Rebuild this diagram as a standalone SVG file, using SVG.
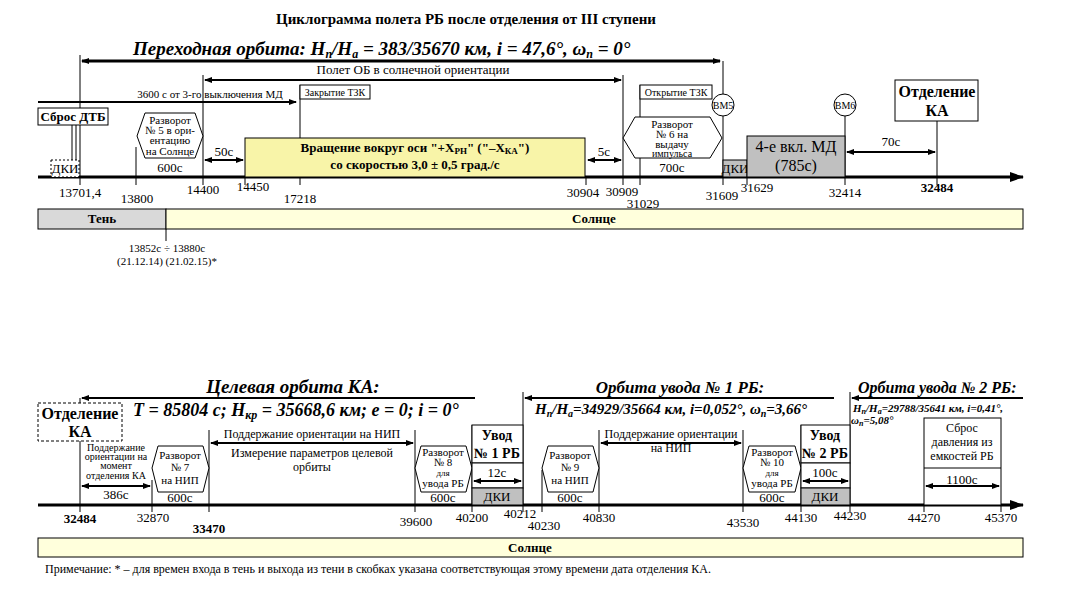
<svg xmlns="http://www.w3.org/2000/svg" width="1074" height="595" viewBox="0 0 1074 595">
<style>
text{font-family:"Liberation Serif","Times New Roman",serif;fill:#000}
.t{font-size:13px;text-anchor:middle}
.s{font-size:11px;text-anchor:middle}
.b{font-weight:bold}
.h{font-size:19px;font-weight:bold;font-style:italic}
.ln{stroke:#000;stroke-width:1;fill:none}
.ax{stroke:#000;stroke-width:3;fill:none}
.ar{stroke:#000;stroke-width:2;fill:none;marker-end:url(#a);marker-start:url(#as)}
.box{fill:#fff;stroke:#000;stroke-width:1}
.hex{fill:#fff;stroke:#000;stroke-width:1}
.gr{fill:#c0c0c0;stroke:#000;stroke-width:1}
</style>
<defs>
<marker id="a" markerWidth="8" markerHeight="8" refX="7" refY="4" orient="auto" markerUnits="userSpaceOnUse"><path d="M0,1 L8,4 L0,7z"/></marker>
<marker id="as" markerWidth="8" markerHeight="8" refX="1" refY="4" orient="auto" markerUnits="userSpaceOnUse"><path d="M8,1 L0,4 L8,7z"/></marker>
<marker id="ae" markerWidth="14" markerHeight="12" refX="13" refY="6" orient="auto" markerUnits="userSpaceOnUse"><path d="M0,1 L14,6 L0,11z"/></marker>
</defs>
<rect width="1074" height="595" fill="#fff"/>
<text x="466" y="24" class="b" style="font-size:15px;text-anchor:middle">Циклограмма полета РБ после отделения от III ступени</text>
<text x="133" y="55" class="h">Переходная орбита: H<tspan font-size="12" dy="3">п</tspan><tspan dy="-3">/H</tspan><tspan font-size="12" dy="3">а</tspan><tspan dy="-3"> = 383/35670 км, i = 47,6°, ω</tspan><tspan font-size="12" dy="3">п</tspan><tspan dy="-3"> = 0°</tspan></text>

<g id="connectors">
<line x1="38" y1="177" x2="1023" y2="177" class="ax" marker-end="url(#ae)"/>
<line x1="38" y1="505" x2="1023" y2="505" class="ax" marker-end="url(#ae)"/>
<line x1="82" y1="61" x2="720" y2="61" stroke="#000" stroke-width="3" marker-start="url(#as)" marker-end="url(#a)"/>
<line x1="80" y1="55" x2="80" y2="185" class="ln"/>
<line x1="723" y1="61" x2="723" y2="185" class="ln"/>
<line x1="205" y1="80" x2="621" y2="80" class="ar"/>
<line x1="203" y1="75" x2="203" y2="185" class="ln"/>
<line x1="623" y1="75" x2="623" y2="185" class="ln"/>
<line x1="38" y1="102" x2="296" y2="102" stroke="#000" stroke-width="2" marker-end="url(#a)"/>
<line x1="300" y1="85" x2="300" y2="185" class="ln"/>
<line x1="640" y1="85" x2="640" y2="185" class="ln"/>
<line x1="136" y1="147" x2="136" y2="185" class="ln"/>
<line x1="205" y1="160" x2="243" y2="160" class="ar"/>
<line x1="588" y1="160" x2="621" y2="160" class="ar"/>
<line x1="847" y1="152" x2="935" y2="152" class="ar"/>
<line x1="845" y1="116" x2="845" y2="185" class="ln"/>
<line x1="937" y1="121" x2="937" y2="185" class="ln"/>
<line x1="245" y1="177" x2="245" y2="185" class="ln"/>
<line x1="586" y1="177" x2="586" y2="185" class="ln"/>
<line x1="747" y1="177" x2="747" y2="185" class="ln"/>
<line x1="72" y1="124" x2="72" y2="160" class="ln"/>
<line x1="76" y1="124" x2="76" y2="160" class="ln"/>
<line x1="166" y1="229" x2="166" y2="241" class="ln"/>
<line x1="82" y1="398" x2="475" y2="398" stroke="#000" stroke-width="2" marker-start="url(#as)"/>
<line x1="80" y1="398" x2="80" y2="512" class="ln"/>
<line x1="525" y1="398" x2="834" y2="398" stroke="#000" stroke-width="2" marker-start="url(#as)"/>
<line x1="523" y1="392" x2="523" y2="512" class="ln"/>
<line x1="852" y1="398" x2="1023" y2="398" stroke="#000" stroke-width="2" marker-start="url(#as)"/>
<line x1="850" y1="392" x2="850" y2="512" class="ln"/>
<line x1="82" y1="486" x2="150" y2="486" class="ar"/>
<line x1="152" y1="480" x2="152" y2="512" class="ln"/>
<line x1="209" y1="430" x2="209" y2="512" class="ln"/>
<line x1="211" y1="443" x2="413" y2="443" class="ar"/>
<line x1="415" y1="430" x2="415" y2="512" class="ln"/>
<line x1="472" y1="425" x2="472" y2="512" class="ln"/>
<line x1="542" y1="470" x2="542" y2="512" class="ln"/>
<line x1="599" y1="430" x2="599" y2="512" class="ln"/>
<line x1="601" y1="443" x2="741" y2="443" class="ar"/>
<line x1="743" y1="430" x2="743" y2="512" class="ln"/>
<line x1="801" y1="425" x2="801" y2="512" class="ln"/>
<line x1="924" y1="505" x2="924" y2="512" class="ln"/>
<line x1="1001" y1="505" x2="1001" y2="512" class="ln"/>
</g>

<g id="sbros-dtb"><rect x="38" y="108" width="70" height="17" class="box"/><text x="73" y="121" class="t b">Сброс ДТБ</text></g>
<g id="dki1"><rect x="51" y="160" width="28" height="17" fill="#fff" stroke="#000" stroke-dasharray="2,2"/><text x="65" y="173" class="t">ДКИ</text></g>
<g id="razv5"><polygon points="145,113 195,113 203,136 195,158 145,158 137,136" class="hex"/>
<text x="170" y="124" class="s">Разворот</text><text x="170" y="134" class="s">№ 5 в ори-</text><text x="170" y="144" class="s">ентацию</text><text x="170" y="155" class="s">на Солнце</text><text x="170" y="172" class="t">600с</text></g>
<text x="224" y="156" class="t">50с</text>
<g id="vrash"><rect x="245" y="138" width="340" height="39" fill="#f8f4a8" stroke="#000"/>
<text x="415" y="152" class="t b">Вращение вокруг оси "+X<tspan font-size="9" dy="2">РН</tspan><tspan dy="-2">" ("–X</tspan><tspan font-size="9" dy="2">КА</tspan><tspan dy="-2">")</tspan></text>
<text x="415" y="169" class="t b">со скоростью 3,0 ± 0,5 град./с</text></g>
<text x="604" y="156" class="t">5с</text>
<text x="413" y="74" class="t">Полет ОБ в солнечной ориентации</text>
<text x="210" y="98" class="s">3600 с от 3-го выключения МД</text>
<g id="zakr"><rect x="300" y="85" width="70" height="14" class="box"/><text x="335" y="96" class="s" style="font-size:10px">Закрытие ТЗК</text></g>
<g id="otkr"><rect x="640" y="85" width="72" height="14" class="box"/><text x="676" y="96" class="s" style="font-size:10px">Открытие ТЗК</text></g>
<g id="razv6"><polygon points="635,117 710,117 722,138 710,158 635,158 623,138" class="hex"/>
<text x="672" y="128" class="s">Разворот</text><text x="672" y="138" class="s">№ 6 на</text><text x="672" y="148" class="s">выдачу</text><text x="672" y="157" class="s" style="font-size:10px">импульса</text><text x="672" y="172" class="t">700с</text></g>
<g id="vm5"><circle cx="723" cy="105" r="11" class="box"/><text x="723" y="109" class="s" style="font-size:10px">ВМ5</text></g>
<g id="vm6"><circle cx="845" cy="105" r="11" class="box"/><text x="845" y="109" class="s" style="font-size:10px">ВМ6</text></g>
<g id="dki2"><rect x="723" y="160" width="24" height="17" class="gr"/><text x="735" y="173" class="t">ДКИ</text></g>
<g id="md4"><rect x="747" y="136" width="98" height="41" class="gr"/><text x="796" y="152" style="font-size:16px;text-anchor:middle">4-е вкл. МД</text><text x="796" y="171" style="font-size:16px;text-anchor:middle">(785с)</text></g>
<text x="891" y="146" class="t">70с</text>
<g id="otd1"><rect x="895" y="80" width="83" height="41" class="box"/><text x="937" y="97" class="b" style="font-size:16px;text-anchor:middle">Отделение</text><text x="937" y="116" class="b" style="font-size:16px;text-anchor:middle">КА</text></g>

<g id="ticks-top">
<text x="80" y="197" class="t">13701,4</text><text x="137" y="203" class="t">13800</text><text x="203" y="194" class="t">14400</text><text x="253" y="191" class="t">14450</text><text x="300" y="203" class="t">17218</text><text x="583" y="197" class="t">30904</text><text x="622" y="196" class="t">30909</text><text x="643" y="208" class="t">31029</text><text x="722" y="200" class="t">31609</text><text x="757" y="192" class="t">31629</text><text x="845" y="197" class="t">32414</text><text x="937" y="192" class="t b">32484</text>
</g>
<g id="ten"><rect x="38" y="209" width="128" height="20" fill="#d9d9d9" stroke="#000"/><text x="102" y="223" class="t b">Тень</text></g>
<g id="sun1"><rect x="166" y="209" width="857" height="20" fill="#ffffdc" stroke="#000"/><text x="594" y="223" class="t b">Солнце</text></g>
<text x="167" y="252" class="s">13852с  ÷  13880с</text>
<text x="167" y="265" class="s">(21.12.14)  (21.02.15)*</text>

<text x="293" y="393" class="h" style="text-anchor:middle">Целевая орбита КА:</text>
<text x="133" y="416" class="h" style="font-size:18px">T = 85804 с; H<tspan font-size="12" dy="3">кр</tspan><tspan dy="-3"> = 35668,6 км; e = 0; i = 0°</tspan></text>
<g id="otd2"><rect x="38" y="403" width="84" height="38" fill="#fff" stroke="#000" stroke-dasharray="3,2"/><text x="80" y="419" class="b" style="font-size:16px;text-anchor:middle">Отделение</text><text x="80" y="437" class="b" style="font-size:16px;text-anchor:middle">КА</text></g>
<g id="podd1"><text x="116" y="451" class="s" style="font-size:10px">Поддержание</text><text x="116" y="460" class="s" style="font-size:10px">ориентации на</text><text x="116" y="469" class="s" style="font-size:10px">момент</text><text x="116" y="479" class="s" style="font-size:10px">отделения КА</text><text x="116" y="499" class="t">386с</text></g>
<g id="razv7"><polygon points="158,446 203,446 209,468 203,492 158,492 152,468" class="hex"/><text x="180" y="459" class="s">Разворот</text><text x="180" y="471" class="s">№ 7</text><text x="180" y="484" class="s">на НИП</text><text x="180" y="502" class="t">600с</text></g>
<text x="312" y="438" class="s" style="font-size:12px">Поддержание ориентации на НИП</text>
<text x="312" y="457" class="s" style="font-size:12px">Измерение параметров целевой</text>
<text x="312" y="471" class="s" style="font-size:12px">орбиты</text>
<g id="razv8"><polygon points="421,446 466,446 472,468 466,492 421,492 415,468" class="hex"/><text x="443" y="456" class="s">Разворот</text><text x="443" y="466" class="s">№ 8</text><text x="443" y="476" class="s" style="font-size:9px">для</text><text x="443" y="487" class="s">увода РБ</text><text x="443" y="502" class="t">600с</text></g>
<g id="uvod1"><rect x="472" y="425" width="51" height="38" class="box"/><text x="497" y="440" class="t b" style="font-size:14px">Увод</text><text x="497" y="458" class="t b" style="font-size:14px">№ 1 РБ</text><rect x="472" y="463" width="51" height="25" class="box"/><text x="497" y="477" class="t">12с</text><line x1="474" y1="481" x2="521" y2="481" class="ar"/><rect x="472" y="488" width="51" height="17" class="gr"/><text x="497" y="501" class="t">ДКИ</text></g>
<text x="680" y="393" class="h" style="text-anchor:middle;font-size:17px">Орбита увода № 1 РБ:</text>
<text x="535" y="414" class="h" style="font-size:15px">H<tspan font-size="10" dy="3">п</tspan><tspan dy="-3">/H</tspan><tspan font-size="10" dy="3">а</tspan><tspan dy="-3">=34929/35664 км, i=0,052°,  ω</tspan><tspan font-size="10" dy="3">п</tspan><tspan dy="-3">=3,66°</tspan></text>
<g id="razv9"><polygon points="548,446 593,446 599,468 593,492 548,492 542,468" class="hex"/><text x="570" y="459" class="s">Разворот</text><text x="570" y="471" class="s">№ 9</text><text x="570" y="484" class="s">на НИП</text><text x="570" y="502" class="t">600с</text></g>
<text x="671" y="438" class="s" style="font-size:12px">Поддержание ориентации</text>
<text x="671" y="452" class="s" style="font-size:12px">на НИП</text>
<g id="razv10"><polygon points="749,446 795,446 801,468 795,492 749,492 743,468" class="hex"/><text x="772" y="456" class="s">Разворот</text><text x="772" y="466" class="s">№ 10</text><text x="772" y="476" class="s" style="font-size:9px">для</text><text x="772" y="487" class="s">увода РБ</text><text x="772" y="502" class="t">600с</text></g>
<g id="uvod2"><rect x="801" y="425" width="49" height="38" class="box"/><text x="825" y="440" class="t b" style="font-size:14px">Увод</text><text x="825" y="458" class="t b" style="font-size:14px">№ 2 РБ</text><rect x="801" y="463" width="49" height="25" class="box"/><text x="825" y="477" class="t">100с</text><line x1="803" y1="481" x2="848" y2="481" class="ar"/><rect x="801" y="488" width="49" height="17" class="gr"/><text x="825" y="501" class="t">ДКИ</text></g>
<text x="858" y="393" class="h" style="font-size:16px">Орбита увода № 2 РБ:</text>
<text x="853" y="412" class="h" style="font-size:11px">H<tspan font-size="8" dy="2">п</tspan><tspan dy="-2">/H</tspan><tspan font-size="8" dy="2">а</tspan><tspan dy="-2">=29788/35641 км, i=0,41°,</tspan></text>
<text x="851" y="424" class="h" style="font-size:11px">ω<tspan font-size="8" dy="2">п</tspan><tspan dy="-2">=5,08°</tspan></text>
<g id="sbros2"><rect x="924" y="418" width="77" height="87" class="box"/><line x1="924" y1="468" x2="1001" y2="468" class="ln"/><text x="962" y="432" class="s" style="font-size:12px">Сброс</text><text x="962" y="446" class="s" style="font-size:12px">давления из</text><text x="962" y="460" class="s" style="font-size:12px">емкостей РБ</text><text x="962" y="484" class="t">1100с</text><line x1="926" y1="486" x2="999" y2="486" class="ar"/></g>
<g id="ticks-bot">
<text x="80" y="523" class="t b">32484</text><text x="153" y="522" class="t">32870</text><text x="209" y="533" class="t b">33470</text><text x="416" y="526" class="t">39600</text><text x="472" y="522" class="t">40200</text><text x="520" y="518" class="t">40212</text><text x="544" y="530" class="t">40230</text><text x="599" y="522" class="t">40830</text><text x="743" y="527" class="t">43530</text><text x="801" y="522" class="t">44130</text><text x="850" y="520" class="t">44230</text><text x="924" y="522" class="t">44270</text><text x="1001" y="522" class="t">45370</text>
</g>
<g id="sun2"><rect x="38" y="538" width="985" height="19" fill="#ffffdc" stroke="#000"/><text x="530" y="552" class="t b">Солнце</text></g>
<text x="45" y="573" style="font-size:12px">Примечание: * – для времен входа в тень и выхода из тени в скобках указана соответствующая этому времени дата отделения КА.</text>
</svg>
